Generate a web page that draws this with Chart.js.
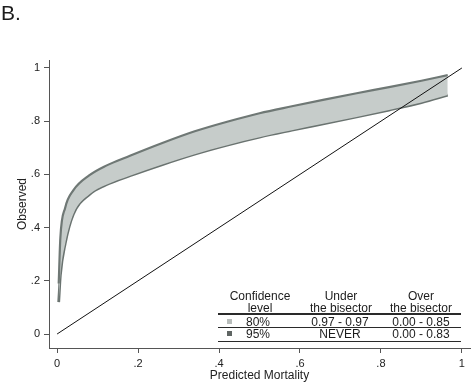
<!DOCTYPE html>
<html lang="en">
  <head>
    <meta charset="UTF-8" />
    <title>Observed vs Predicted Mortality</title>
    <script src="https://cdn.jsdelivr.net/npm/chart.js"></script>
    <style>
      body{margin:0;background:#fff;font-family:'Liberation Sans',Arial,sans-serif;color:#1c1c1c}
      #wrap{position:relative;width:474px;height:385px}
      .panel{position:absolute;left:1px;top:2px;font-size:21px;line-height:21px}
      .t{position:absolute;font-size:12px;line-height:12px;white-space:nowrap;transform:translate(-50%,-50%)}
      .rule{position:absolute;left:218px;width:243px;background:#2a2a2a}
      .sq{position:absolute;width:5px;height:5px}
    </style>
  </head>
  <body>
    <div id="wrap">
      <canvas id="chart" width="474" height="385"></canvas>
      <div class="panel">B.</div>

      <!-- confidence level table -->
      <div class="t" style="left:260px;top:296px">Confidence</div>
      <div class="t" style="left:260px;top:308px">level</div>
      <div class="t" style="left:341px;top:296px">Under</div>
      <div class="t" style="left:341px;top:308px">the bisector</div>
      <div class="t" style="left:421px;top:296px">Over</div>
      <div class="t" style="left:421px;top:308px">the bisector</div>
      <div class="rule" style="top:313px;height:1.5px"></div>
      <div class="sq" style="left:227px;top:319px;background:#b8bdbb"></div>
      <div class="t" style="left:258px;top:321.5px">80%</div>
      <div class="t" style="left:340px;top:321.5px">0.97 - 0.97</div>
      <div class="t" style="left:421px;top:321.5px">0.00 - 0.85</div>
      <div class="rule" style="top:327px;height:1px"></div>
      <div class="sq" style="left:227px;top:331px;background:#5f6563"></div>
      <div class="t" style="left:258px;top:334px">95%</div>
      <div class="t" style="left:340px;top:334px">NEVER</div>
      <div class="t" style="left:421px;top:334px">0.00 - 0.83</div>
      <div class="rule" style="top:341px;height:1px"></div>
    </div>

    <script>
      // predicted mortality (x) and bounds of the confidence band (observed)
      const predicted = [0.004, 0.008, 0.02, 0.04, 0.08, 0.12, 0.18, 0.26, 0.34, 0.42, 0.50, 0.58, 0.66, 0.74, 0.82, 0.90, 0.965];
      const upperBand = [0.19, 0.36, 0.475, 0.54, 0.597, 0.632, 0.67, 0.718, 0.762, 0.798, 0.83, 0.856, 0.881, 0.905, 0.928, 0.952, 0.973];
      const lowerBand = [0.12, 0.22, 0.34, 0.45, 0.525, 0.56, 0.595, 0.637, 0.676, 0.71, 0.74, 0.766, 0.791, 0.816, 0.842, 0.87, 0.898];
      const bisectorX = [0, 1];
      const bisectorY = [0, 1];

      const tickVals = [0, 0.2, 0.4, 0.6, 0.8, 1];
      const xLabels = ['0', '.2', '.4', '.6', '.8', '1'];
      const yLabels = ['0', '.2', '.4', '.6', '.8', '1'];

      const pts = (xs, ys) => xs.map((x, i) => ({ x, y: ys[i] }));
      const axisCol = '#555';
      const tickFont = { family: "'Liberation Sans', Arial, sans-serif", size: 11 };
      const titleFont = { family: "'Liberation Sans', Arial, sans-serif", size: 12 };

      new Chart(document.getElementById('chart'), {
        type: 'line',
        data: {
          datasets: [
            { data: pts(bisectorX, bisectorY), borderColor: '#111', borderWidth: 1, pointRadius: 0, fill: false, order: 0 },
            { data: pts(predicted, upperBand), borderColor: '#6f7875', borderWidth: 2.2, pointRadius: 0,
              cubicInterpolationMode: 'monotone', fill: '+1', backgroundColor: '#c6ccca', order: 1 },
            { data: pts(predicted, lowerBand), borderColor: '#6a7370', borderWidth: 2.8, pointRadius: 0,
              cubicInterpolationMode: 'monotone', fill: false, order: 2 }
          ]
        },
        options: {
          responsive: false,
          animation: false,
          devicePixelRatio: 1,
          layout: { padding: { left: 0, top: 60, right: 4, bottom: 0 } },
          plugins: { legend: { display: false }, tooltip: { enabled: false } },
          scales: {
            x: {
              type: 'linear', min: -0.02, max: 1.02,
              afterBuildTicks: s => { s.ticks = tickVals.map(v => ({ value: v })); },
              afterFit: s => { s.height = 37; },
              ticks: { callback: (v, i) => xLabels[i], color: '#222', font: tickFont, padding: 4, maxRotation: 0 },
              grid: { drawOnChartArea: false, tickLength: 5, color: axisCol },
              border: { color: axisCol, width: 1 },
              title: { display: true, text: 'Predicted Mortality', color: '#222', font: titleFont, padding: { top: 0, bottom: 2 } }
            },
            y: {
              type: 'linear', min: -0.0526, max: 1.03,
              afterBuildTicks: s => { s.ticks = tickVals.map(v => ({ value: v })); },
              afterFit: s => { s.width = 49; },
              ticks: { callback: (v, i) => yLabels[i], color: '#222', font: tickFont, padding: 4 },
              grid: { drawOnChartArea: false, tickLength: 5, color: axisCol },
              border: { color: axisCol, width: 1 },
              title: { display: true, text: 'Observed', color: '#222', font: titleFont, padding: { top: 15, bottom: 0 } }
            }
          }
        }
      });
    </script>
  </body>
</html>
